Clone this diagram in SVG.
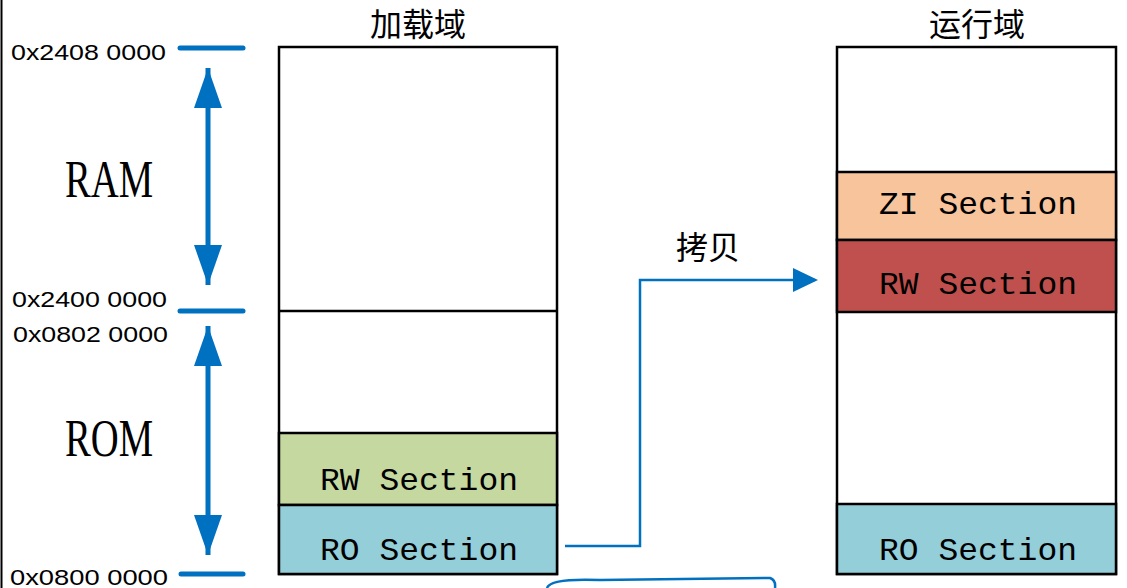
<svg xmlns="http://www.w3.org/2000/svg" width="1127" height="588" viewBox="0 0 1127 588">
<style>
.box{stroke:#000;stroke-width:2.5}
.sec{font-family:"Liberation Mono",monospace;font-size:32px;fill:#000;text-anchor:middle}
.addr{font-family:"Liberation Sans",Arial,sans-serif;font-size:22px;fill:#000}
.big{font-family:"Liberation Serif",serif;font-size:52px;fill:#000;text-anchor:middle}
.ttl{font-family:"Noto Sans CJK SC",sans-serif;font-size:32px;fill:#000;text-anchor:middle}
.blue{stroke:#0070c0;fill:none}
</style>
<defs>
<marker id="big" viewBox="0 0 40 28" refX="40" refY="14" markerWidth="40" markerHeight="28" markerUnits="userSpaceOnUse" orient="auto-start-reverse"><path d="M0,0 L40,14 L0,28z" fill="#0070c0"/></marker>
</defs>
<rect width="1127" height="588" fill="#fff"/>
<line x1="1.5" y1="0" x2="1.5" y2="588" stroke="#000" stroke-width="2"/>
<g id="load-title"><text class="ttl" x="418" y="36">加载域</text></g>
<g id="run-title"><text class="ttl" x="977" y="36">运行域</text></g>
<g id="addresses">
<text class="addr" x="11" y="60" textLength="155" lengthAdjust="spacingAndGlyphs">0x2408 0000</text>
<text class="addr" x="12" y="307" textLength="155" lengthAdjust="spacingAndGlyphs">0x2400 0000</text>
<text class="addr" x="13" y="342" textLength="155" lengthAdjust="spacingAndGlyphs">0x0802 0000</text>
<text class="addr" x="10" y="585" textLength="158" lengthAdjust="spacingAndGlyphs">0x0800 0000</text>
</g>
<g id="RAM"><text class="big" x="109" y="197" textLength="88" lengthAdjust="spacingAndGlyphs">RAM</text></g>
<g id="ROM"><text class="big" x="109" y="456" textLength="88" lengthAdjust="spacingAndGlyphs">ROM</text></g>
<g id="load-domain">
<rect class="box" x="279" y="47" width="278" height="527" fill="#fff"/>
<line class="box" x1="279" y1="311" x2="557" y2="311"/>
<rect class="box" x="279" y="433" width="278" height="72" fill="#c5d8a0"/>
<rect class="box" x="279" y="505" width="278" height="69" fill="#94ced9"/>
<text class="sec" x="419" y="490" textLength="198" lengthAdjust="spacingAndGlyphs">RW Section</text>
<text class="sec" x="419" y="560" textLength="198" lengthAdjust="spacingAndGlyphs">RO Section</text>
</g>
<g id="run-domain">
<rect class="box" x="837" y="47" width="279" height="527" fill="#fff"/>
<rect class="box" x="837" y="172" width="279" height="68" fill="#f8c49c"/>
<rect class="box" x="837" y="240" width="279" height="72" fill="#c0504d"/>
<rect class="box" x="837" y="504" width="279" height="70" fill="#94ced9"/>
<text class="sec" x="978" y="214" textLength="198" lengthAdjust="spacingAndGlyphs">ZI Section</text>
<text class="sec" x="978" y="294" textLength="198" lengthAdjust="spacingAndGlyphs">RW Section</text>
<text class="sec" x="978" y="560" textLength="198" lengthAdjust="spacingAndGlyphs">RO Section</text>
</g>
<g id="connectors">
<line class="blue" x1="180" y1="48" x2="243" y2="48" stroke-width="5" stroke-linecap="round"/>
<line class="blue" x1="180" y1="311" x2="243" y2="311" stroke-width="5" stroke-linecap="round"/>
<line class="blue" x1="181" y1="574" x2="243" y2="574" stroke-width="5" stroke-linecap="round"/>
<line class="blue" x1="208" y1="68" x2="208" y2="285" stroke-width="5" marker-start="url(#big)" marker-end="url(#big)"/>
<line class="blue" x1="208" y1="326" x2="208" y2="555" stroke-width="5" marker-start="url(#big)" marker-end="url(#big)"/>
<polyline class="blue" points="565,546 640,546 640,280 815,280" stroke-width="2.5"/>
<path d="M793,268 L818,280 L793,292z" fill="#0070c0"/>
<path class="blue" d="M547,588 Q550,578 600,580 L770,578 Q776,580 775,588" stroke-width="2.5"/>
</g>
<g id="copy-label"><text class="ttl" x="708" y="259" font-size="30">拷贝</text></g>
</svg>
